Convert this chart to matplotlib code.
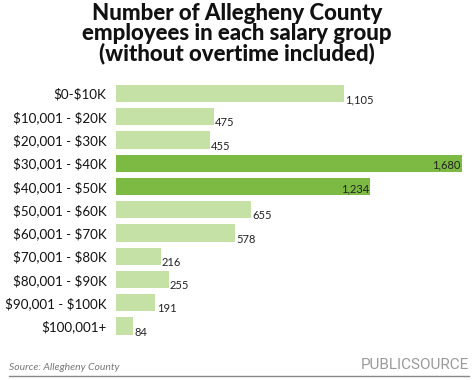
import matplotlib.pyplot as plt
import numpy as np

categories = ["$0-$10K", "$10,001 - $20K", "$20,001 - $30K", "$30,001 - $40K",
              "$40,001 - $50K", "$50,001 - $60K", "$60,001 - $70K", "$70,001 - $80K",
              "$80,001 - $90K", "$90,001 - $100K", "$100,001+"]
counts = [1105, 475, 455, 1680, 1234, 655, 578, 216, 255, 191, 84]
highlight = [False, False, False, True, True, False, False, False, False, False, False]

LIGHT = "#c6e1a6"
DARK = "#7dba43"

plt.rcParams['font.family'] = ['Lato', 'DejaVu Sans']
plt.rcParams['text.parse_math'] = False

fig = plt.figure(figsize=(4.74, 3.8), dpi=100)
ax = fig.add_axes([0.245, 0.1116, 0.738, 0.673])

y = np.arange(len(categories))
colors = [DARK if h else LIGHT for h in highlight]
ax.barh(y, counts, height=0.74, color=colors)
ax.set_xlim(0, 1700)
ax.set_ylim(len(categories) - 0.5, -0.5)

for yi, v, h in zip(y, counts, highlight):
    txt = f"{v:,}"
    if h:
        ax.text(v - 6, yi + 0.33, txt, ha="right", va="bottom", fontsize=8, color="#222222")
    else:
        ax.text(v + 6, yi + 0.5, txt, ha="left", va="bottom", fontsize=8, color="#222222")

ax.set_yticks(y)
ax.set_yticklabels(categories, fontsize=9.6, color="#111111")
ax.tick_params(axis="y", length=0, pad=7)
ax.set_xticks([])
for s in ax.spines.values():
    s.set_visible(False)

fig.text(0.5, 0.912, "Number of Allegheny County\nemployees in each salary group\n(without overtime included)",
         ha="center", va="center", fontsize=16, fontweight=900,
         linespacing=0.92, color="#111111")

fig.text(0.018, 0.022, "Source: Allegheny County", fontsize=7.5, style="italic", color="#777777",
         va="bottom", ha="left")
fig.text(0.99, 0.02, "PUBLICSOURCE", fontsize=11, color="#9a9a9a", va="bottom", ha="right",
         family=["Roboto", "DejaVu Sans"])
fig.add_artist(plt.Line2D([0.018, 0.99], [0.011, 0.011], color="#888888", lw=1))

fig.savefig("out.png", dpi=100)
